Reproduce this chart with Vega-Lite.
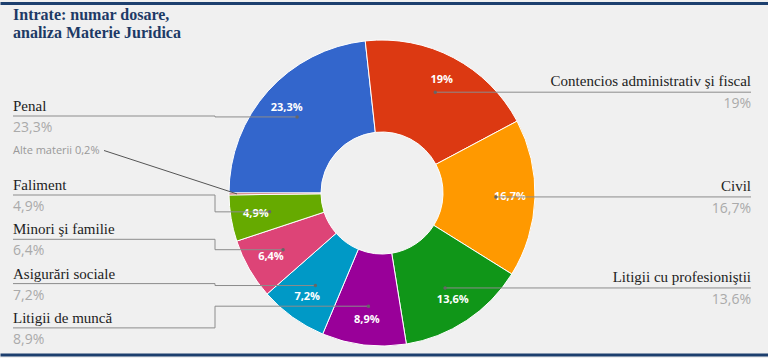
{
  "$schema": "https://vega.github.io/schema/vega-lite/v6.json",
  "width": 768,
  "height": 358,
  "padding": 0,
  "autosize": {"type": "none"},
  "background": "#f0f0f0",
  "config": {
    "view": {"stroke": null},
    "locale": {"number": {"decimal": ",", "thousands": ".", "grouping": [3], "currency": ["", " €"]}}
  },
  "title": {
    "text": ["Intrate: numar dosare,", "analiza Materie Juridica"],
    "anchor": "start",
    "frame": "group",
    "offset": -41,
    "dx": 13,
    "font": "Liberation Serif",
    "fontSize": 16,
    "fontWeight": "bold",
    "color": "#1d3a66",
    "lineHeight": 18
  },
  "data": {
    "values": [
      {"name": "Penal", "value": 23.3, "ord": 1},
      {"name": "Contencios administrativ şi fiscal", "value": 19, "ord": 2},
      {"name": "Civil", "value": 16.7, "ord": 3},
      {"name": "Litigii cu profesioniştii", "value": 13.6, "ord": 4},
      {"name": "Litigii de muncă", "value": 8.9, "ord": 5},
      {"name": "Asigurări sociale", "value": 7.2, "ord": 6},
      {"name": "Minori şi familie", "value": 6.4, "ord": 7},
      {"name": "Faliment", "value": 4.9, "ord": 8},
      {"name": "Alte materii", "value": 0.2, "ord": 9}
    ]
  },
  "transform": [
    {"calculate": "datum.value / 100", "as": "frac"},
    {"joinaggregate": [{"op": "sum", "field": "value", "as": "total"}]},
    {"window": [{"op": "sum", "field": "value", "as": "cum"}], "sort": [{"field": "ord"}], "frame": [null, 0]},
    {"calculate": "(datum.cum - datum.value / 2) / datum.total * 2 * PI - PI / 2", "as": "mid"},
    {"calculate": "114 * sin(datum.mid)", "as": "dx"},
    {"calculate": "-114 * cos(datum.mid)", "as": "dy"},
    {"calculate": "145 * sin(datum.mid)", "as": "ex"},
    {"calculate": "-145 * cos(datum.mid)", "as": "ey"},
    {"calculate": "datum.dx < 0 ? 'L' : 'R'", "as": "side"},
    {"window": [{"op": "row_number", "as": "rk"}], "groupby": ["side"], "sort": [{"field": "dy"}]},
    {"calculate": "datum.side == 'R' ? datum.dy : -77 + 39.5 * (min(datum.rk, 3) - 1) + 44.3 * max(datum.rk - 3, 0)", "as": "ly"},
    {"calculate": "datum.side == 'R' ? 369 : -369", "as": "lx"},
    {"calculate": "datum.side == 'R' ? 369 : -167", "as": "ax2"},
    {"calculate": "-167", "as": "jx"},
    {"calculate": "-278", "as": "tx"},
    {"calculate": "datum.ly - 5", "as": "ty"},
    {"calculate": "datum.name + ' ' + replace(format(datum.frac, '.1~%'), '.', ',')", "as": "small"}
  ],
  "resolve": {"axis": {"x": "independent"}},
  "layer": [
    {
      "mark": {"type": "arc", "outerRadius": 153, "innerRadius": 61, "stroke": "#ffffff", "strokeWidth": 1},
      "encoding": {
        "theta": {"field": "value", "type": "quantitative", "stack": true, "scale": {"range": [-1.5708, 4.7124]}},
        "order": {"field": "ord"},
        "color": {
          "field": "name",
          "type": "nominal",
          "scale": {
            "domain": ["Penal", "Contencios administrativ şi fiscal", "Civil", "Litigii cu profesioniştii", "Litigii de muncă", "Asigurări sociale", "Minori şi familie", "Faliment", "Alte materii"],
            "range": ["#3366cc", "#dc3912", "#ff9900", "#109618", "#990099", "#0099c6", "#dd4477", "#66aa00", "#b82e2e"]
          },
          "legend": null
        },
        "x": {"datum": 0, "type": "quantitative", "scale": {"domain": [-382, 386], "nice": false, "zero": false},
              "axis": {"orient": "top", "domainColor": "#1c3f6e", "domainWidth": 3, "offset": -3, "ticks": false, "labels": false, "grid": false, "title": null}},
        "y": {"datum": 0, "type": "quantitative", "scale": {"domain": [-193, 165], "nice": false, "zero": false, "reverse": true}, "axis": null}
      }
    },
    {
      "mark": {"type": "text", "radius": 128, "font": "Open Sans", "fontSize": 11, "fontWeight": "bold", "fill": "#ffffff"},
      "encoding": {
        "theta": {"field": "value", "type": "quantitative", "stack": true},
        "order": {"field": "ord"},
        "text": {"field": "frac", "type": "quantitative", "format": ".1~%"},
        "opacity": {"condition": {"test": "datum.value < 1", "value": 0}, "value": 1},
        "x": {"datum": 0, "type": "quantitative", "scale": {"domain": [-382, 386], "nice": false, "zero": false},
              "axis": {"orient": "bottom", "domainColor": "#1c3f6e", "domainWidth": 3, "offset": -3.5, "ticks": false, "labels": false, "grid": false, "title": null}},
        "y": {"datum": 0, "type": "quantitative", "scale": {"domain": [-193, 165], "nice": false, "zero": false, "reverse": true}, "axis": null}
      }
    },
    {
      "transform": [{"filter": "datum.value >= 1"}],
      "mark": {"type": "rule", "stroke": "#8c8c8c", "strokeWidth": 1},
      "encoding": {
        "x": {"field": "dx", "type": "quantitative", "axis": null},
        "x2": {"field": "ax2"},
        "y": {"field": "dy", "type": "quantitative", "axis": null}
      }
    },
    {
      "transform": [{"filter": "datum.value >= 1 && datum.side == 'L'"}],
      "mark": {"type": "rule", "stroke": "#8c8c8c", "strokeWidth": 1},
      "encoding": {
        "x": {"field": "jx", "type": "quantitative", "axis": null},
        "y": {"field": "dy", "type": "quantitative", "axis": null},
        "y2": {"field": "ly"}
      }
    },
    {
      "transform": [{"filter": "datum.value >= 1 && datum.side == 'L'"}],
      "mark": {"type": "rule", "stroke": "#8c8c8c", "strokeWidth": 1},
      "encoding": {
        "x": {"field": "jx", "type": "quantitative", "axis": null},
        "x2": {"field": "lx"},
        "y": {"field": "ly", "type": "quantitative", "axis": null}
      }
    },
    {
      "transform": [{"filter": "datum.value < 1"}],
      "mark": {"type": "rule", "stroke": "#555555", "strokeWidth": 1},
      "encoding": {
        "x": {"field": "ex", "type": "quantitative", "axis": null},
        "x2": {"field": "tx"},
        "y": {"field": "ey", "type": "quantitative", "axis": null},
        "y2": {"field": "ty"}
      }
    },
    {
      "transform": [{"filter": "datum.value >= 1"}],
      "mark": {"type": "point", "filled": true, "size": 12, "color": "#666666", "opacity": 1},
      "encoding": {
        "x": {"field": "dx", "type": "quantitative", "axis": null},
        "y": {"field": "dy", "type": "quantitative", "axis": null}
      }
    },
    {
      "transform": [{"filter": "datum.value >= 1 && datum.side == 'L'"}],
      "mark": {"type": "text", "align": "left", "baseline": "alphabetic", "dy": -5, "font": "Liberation Serif", "fontSize": 15, "fill": "#222222"},
      "encoding": {
        "x": {"field": "lx", "type": "quantitative", "axis": null},
        "y": {"field": "ly", "type": "quantitative", "axis": null},
        "text": {"field": "name"}
      }
    },
    {
      "transform": [{"filter": "datum.value >= 1 && datum.side == 'R'"}],
      "mark": {"type": "text", "align": "right", "baseline": "alphabetic", "dy": -6, "font": "Liberation Serif", "fontSize": 15, "fill": "#222222"},
      "encoding": {
        "x": {"field": "lx", "type": "quantitative", "axis": null},
        "y": {"field": "ly", "type": "quantitative", "axis": null},
        "text": {"field": "name"}
      }
    },
    {
      "transform": [{"filter": "datum.value >= 1 && datum.side == 'L'"}],
      "mark": {"type": "text", "align": "left", "baseline": "alphabetic", "dy": 16, "font": "Open Sans", "fontSize": 14, "fill": "#aaaaaa"},
      "encoding": {
        "x": {"field": "lx", "type": "quantitative", "axis": null},
        "y": {"field": "ly", "type": "quantitative", "axis": null},
        "text": {"field": "frac", "type": "quantitative", "format": ".1~%"}
      }
    },
    {
      "transform": [{"filter": "datum.value >= 1 && datum.side == 'R'"}],
      "mark": {"type": "text", "align": "right", "baseline": "alphabetic", "dy": 16, "font": "Open Sans", "fontSize": 14, "fill": "#aaaaaa"},
      "encoding": {
        "x": {"field": "lx", "type": "quantitative", "axis": null},
        "y": {"field": "ly", "type": "quantitative", "axis": null},
        "text": {"field": "frac", "type": "quantitative", "format": ".1~%"}
      }
    },
    {
      "transform": [{"filter": "datum.value < 1"}],
      "mark": {"type": "text", "align": "left", "baseline": "middle", "dy": -5, "font": "Open Sans", "fontSize": 11, "fill": "#999999"},
      "encoding": {
        "x": {"field": "lx", "type": "quantitative", "axis": null},
        "y": {"field": "ly", "type": "quantitative", "axis": null},
        "text": {"field": "small"}
      }
    }
  ]
}
